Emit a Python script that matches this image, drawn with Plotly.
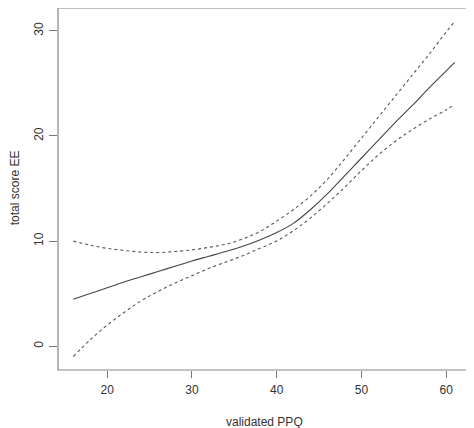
import plotly.graph_objects as go

# values
ppq = [16, 18, 20, 22, 24, 26, 28, 30, 32, 34, 36, 38, 40, 42, 44, 46, 48, 50, 52, 54, 56, 58, 60, 61]
fit = [4.45, 5.0, 5.55, 6.1, 6.6, 7.1, 7.6, 8.1, 8.55, 9.0, 9.5, 10.1, 10.8, 11.7, 13.0, 14.5,
       16.2, 17.9, 19.6, 21.3, 22.9, 24.6, 26.2, 27.0]
upper = [10.0, 9.6, 9.3, 9.1, 8.95, 8.9, 9.0, 9.15, 9.4, 9.7, 10.2, 10.9, 11.9, 13.0, 14.3, 15.9,
         17.8, 19.8, 21.8, 23.8, 25.8, 27.8, 29.9, 30.9]
lower = [-1.0, 0.6, 2.0, 3.2, 4.3, 5.2, 6.0, 6.7, 7.4, 8.0, 8.6, 9.3, 10.0, 11.0, 12.2, 13.6,
         15.1, 16.7, 18.2, 19.5, 20.6, 21.6, 22.5, 23.0]
x_ticks = [20, 30, 40, 50, 60]
y_ticks = [0, 10, 20, 30]

font = dict(family="Liberation Sans, Arial, sans-serif", size=12, color="#333333")

def r_range(lo, hi):
    # base R style 4% padding
    pad = (hi - lo) * 0.04
    return [lo - pad, hi + pad]

fig = go.Figure()
fig.add_trace(go.Scatter(x=ppq, y=fit, mode="lines", line=dict(color="#444444", width=1.1, shape="spline")))
fig.add_trace(go.Scatter(x=ppq, y=upper, mode="lines",
                         line=dict(color="#555555", width=1.1, dash="3px,3px", shape="spline")))
fig.add_trace(go.Scatter(x=ppq, y=lower, mode="lines",
                         line=dict(color="#555555", width=1.1, dash="3px,3px", shape="spline")))

# page body has an 8px margin, so the figure is a bit smaller than the window
fig.update_layout(
    width=466, height=420,
    margin=dict(l=50, r=4, t=0, b=58),
    paper_bgcolor="white", plot_bgcolor="white",
    showlegend=False, font=font,
    xaxis=dict(range=r_range(min(ppq), max(ppq)), tickvals=x_ticks, showgrid=False, zeroline=False,
               ticks="outside", ticklen=7, tickcolor="#777777", ticklabelstandoff=2,
               showline=False),
    yaxis=dict(range=r_range(min(lower), max(upper)), tickvals=y_ticks, showgrid=False, zeroline=False,
               ticks="outside", ticklen=8, tickcolor="#777777", tickangle=-90, ticklabelstandoff=1,
               showline=False),
    shapes=[dict(type="rect", xref="paper", yref="paper", x0=0, y0=0, x1=1, y1=1,
                 line=dict(color="#888888", width=1.2))],
    annotations=[
        dict(text="validated PPQ", xref="paper", yref="paper", x=0.502, y=-0.143,
             showarrow=False, xanchor="center", yanchor="middle", font=font),
        dict(text="total score EE", xref="paper", yref="paper", x=-0.105, y=0.504,
             showarrow=False, textangle=-90, xanchor="center", yanchor="middle", font=font),
    ],
)

fig.write_html("out.html")
